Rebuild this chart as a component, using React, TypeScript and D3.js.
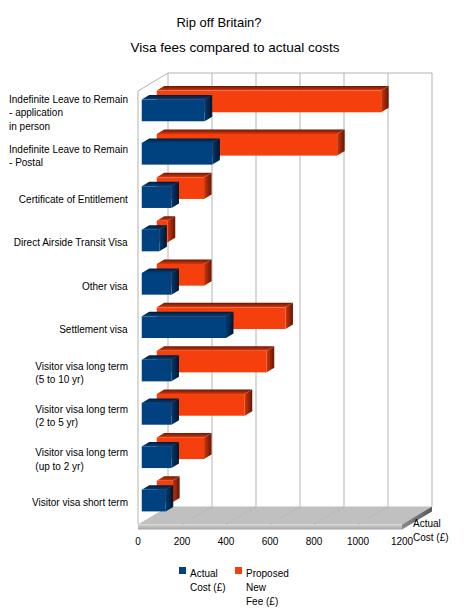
import { useEffect, useRef } from 'react';
import * as d3 from 'd3';

// Category labels, already wrapped the way the original chart wraps them
const categories: string[][] = [
  ['Indefinite Leave to Remain', '- application', 'in person'],
  ['Indefinite Leave to Remain', '- Postal'],
  ['Certificate of Entitlement'],
  ['Direct Airside Transit Visa'],
  ['Other visa'],
  ['Settlement visa'],
  ['Visitor visa long term', '(5 to 10 yr)'],
  ['Visitor visa long term', '(2 to 5 yr)'],
  ['Visitor visa long term', '(up to 2 yr)'],
  ['Visitor visa short term'],
];

const actualCost = [286, 321, 135, 80, 135, 383, 135, 135, 135, 109];
const proposedFee = [1020, 820, 215, 50, 215, 585, 500, 400, 215, 70];

const seriesLabels: string[][] = [
  ['Actual', 'Cost (£)'],
  ['Proposed', 'New', 'Fee (£)'],
];

const xTicks = [0, 200, 400, 600, 800, 1000, 1200];

const WIDTH = 464;
const HEIGHT = 613;
const FONT = '"Liberation Sans", Arial, sans-serif';

// oblique projection of the depth axis
const DEPTH_X = 30;
const DEPTH_Y = -18;

export default function App() {
  const svgRef = useRef<SVGSVGElement>(null);

  useEffect(() => {
    if (!svgRef.current) return;
    const svg = d3.select(svgRef.current);
    svg.selectAll('*').remove();

    const x = d3.scaleLinear().domain([0, 1200]).range([138, 402]);
    const y = d3.scaleBand<number>()
      .domain(d3.range(categories.length))
      .range([91, 524.5])
      .paddingInner(0.5)
      .paddingOuter(0.25);
    const yTop = 91;
    const yFloor = 524.5;

    const proj = (v: number, yy: number, z: number): [number, number] =>
      [x(v) + DEPTH_X * z, yy + DEPTH_Y * z];
    const poly = (pts: [number, number][]) => pts.map(p => p.join(',')).join(' ');

    // gradients
    const defs = svg.append('defs');
    const grad = (id: string, vertical: boolean, stops: [number, string][]) => {
      const g = defs.append('linearGradient')
        .attr('id', id)
        .attr('x1', 0).attr('y1', 0)
        .attr('x2', vertical ? 0 : 1).attr('y2', vertical ? 1 : 0);
      stops.forEach(([o, c]) => g.append('stop').attr('offset', o).attr('stop-color', c));
    };
    grad('blueTop', true, [[0, '#001a36'], [1, '#00427f']]);
    grad('blueSide', false, [[0, '#003a70'], [1, '#00152c']]);
    grad('orangeTop', true, [[0, '#6a1804'], [1, '#d8380b']]);
    grad('orangeSide', false, [[0, '#d0360b'], [1, '#641604']]);
    grad('floorFront', true, [[0, '#d4d4d4'], [1, '#a4a4a4']]);
    grad('floorSide', false, [[0, '#8a8a8a'], [1, '#5a5a5a']]);

    // floor
    const floorThick = 5;
    svg.append('polygon')
      .attr('points', poly([proj(0, yFloor, 0), proj(1200, yFloor, 0), proj(1200, yFloor, 1), proj(0, yFloor, 1)]))
      .attr('fill', '#c0c0c0');
    svg.append('rect')
      .attr('x', x(0)).attr('y', yFloor)
      .attr('width', x(1200) - x(0)).attr('height', floorThick)
      .attr('fill', 'url(#floorFront)');
    svg.append('polygon')
      .attr('points', poly([proj(1200, yFloor, 0), proj(1200, yFloor, 1), proj(1200, yFloor + floorThick, 1), proj(1200, yFloor + floorThick, 0)]))
      .attr('fill', 'url(#floorSide)');
    svg.append('g').selectAll('line')
      .data(xTicks.slice(1, -1))
      .enter().append('line')
      .attr('x1', d => proj(d, yFloor, 0)[0]).attr('y1', d => proj(d, yFloor, 0)[1])
      .attr('x2', d => proj(d, yFloor, 1)[0]).attr('y2', d => proj(d, yFloor, 1)[1])
      .attr('stroke', '#b2b2b2').attr('stroke-width', 1).attr('stroke-dasharray', '2,2');

    // walls and grid
    const wall = svg.append('g').attr('stroke', '#b3b3b3').attr('stroke-width', 1).attr('fill', 'none');
    wall.selectAll('line.grid')
      .data(xTicks)
      .enter().append('line')
      .attr('class', 'grid')
      .attr('x1', d => proj(d, yTop, 1)[0]).attr('y1', d => proj(d, yTop, 1)[1])
      .attr('x2', d => proj(d, yFloor, 1)[0]).attr('y2', d => proj(d, yFloor, 1)[1]);
    wall.append('polyline')
      .attr('points', poly([proj(0, yFloor, 0), proj(0, yTop, 0), proj(0, yTop, 1), proj(1200, yTop, 1)]));

    // bars: each series sits in its own depth slot
    const drawBar = (v: number, i: number, z0: number, z1: number, front: string, top: string, side: string) => {
      const y0 = y(i)!;
      const y1 = y0 + y.bandwidth();
      const g = svg.append('g');
      g.append('polygon')
        .attr('points', poly([proj(0, y0, z0), proj(v, y0, z0), proj(v, y0, z1), proj(0, y0, z1)]))
        .attr('fill', top);
      g.append('polygon')
        .attr('points', poly([proj(v, y0, z0), proj(v, y0, z1), proj(v, y1, z1), proj(v, y1, z0)]))
        .attr('fill', side);
      const [fx, fy] = proj(0, y0, z0);
      g.append('rect')
        .attr('x', fx).attr('y', fy)
        .attr('width', x(v) - x(0)).attr('height', y.bandwidth())
        .attr('fill', front);
    };
    proposedFee.forEach((v, i) => drawBar(v, i, 0.625, 0.875, '#f5400e', 'url(#orangeTop)', 'url(#orangeSide)'));
    actualCost.forEach((v, i) => drawBar(v, i, 0.125, 0.375, '#00427f', 'url(#blueTop)', 'url(#blueSide)'));

    // x tick labels
    svg.append('g').selectAll('text')
      .data(xTicks)
      .enter().append('text')
      .attr('x', d => x(d))
      .attr('y', 545)
      .attr('text-anchor', 'middle')
      .style('font-family', FONT)
      .style('font-size', '10px')
      .text(d => d);

    // category labels: lines left aligned, block right aligned against the axis
    const lineH = 13.3;
    categories.forEach((lines, i) => {
      const cy = y(i)! + y.bandwidth() / 2;
      const g = svg.append('g');
      const t = g.append('text')
        .style('font-family', FONT)
        .style('font-size', '10px');
      lines.forEach((ln, k) => {
        t.append('tspan')
          .attr('x', 0)
          .attr('y', cy - ((lines.length - 1) * lineH) / 2 + 3.6 + k * lineH)
          .text(ln);
      });
      const w = (t.node() as SVGTextElement).getBBox().width;
      g.attr('transform', `translate(${128 - w},0)`);
    });

    // depth axis label
    const zl = svg.append('text')
      .style('font-family', FONT)
      .style('font-size', '10px');
    seriesLabels[0].forEach((ln, k) => {
      zl.append('tspan').attr('x', 413).attr('y', 527 + k * 14).text(ln);
    });

    // legend
    const legendX = [179, 235];
    const legendColors = ['#00427f', '#f5400e'];
    seriesLabels.forEach((lines, s) => {
      svg.append('rect')
        .attr('x', legendX[s]).attr('y', 567)
        .attr('width', 7).attr('height', 7)
        .attr('fill', legendColors[s]);
      const t = svg.append('text')
        .style('font-family', FONT)
        .style('font-size', '10px');
      lines.forEach((ln, k) => {
        t.append('tspan').attr('x', legendX[s] + 11).attr('y', 577 + k * 14).text(ln);
      });
    });

    // titles
    svg.append('text')
      .attr('x', 219).attr('y', 27)
      .attr('text-anchor', 'middle')
      .style('font-family', FONT)
      .style('font-size', '13px')
      .text('Rip off Britain?');
    svg.append('text')
      .attr('x', 235).attr('y', 52)
      .attr('text-anchor', 'middle')
      .style('font-family', FONT)
      .style('font-size', '13.5px')
      .text('Visa fees compared to actual costs');
  }, []);

  return (
    <svg
      ref={svgRef}
      width={WIDTH}
      height={HEIGHT}
      viewBox={`0 0 ${WIDTH} ${HEIGHT}`}
      style={{ position: 'absolute', left: 0, top: 0, background: '#fff', display: 'block' }}
    />
  );
}
